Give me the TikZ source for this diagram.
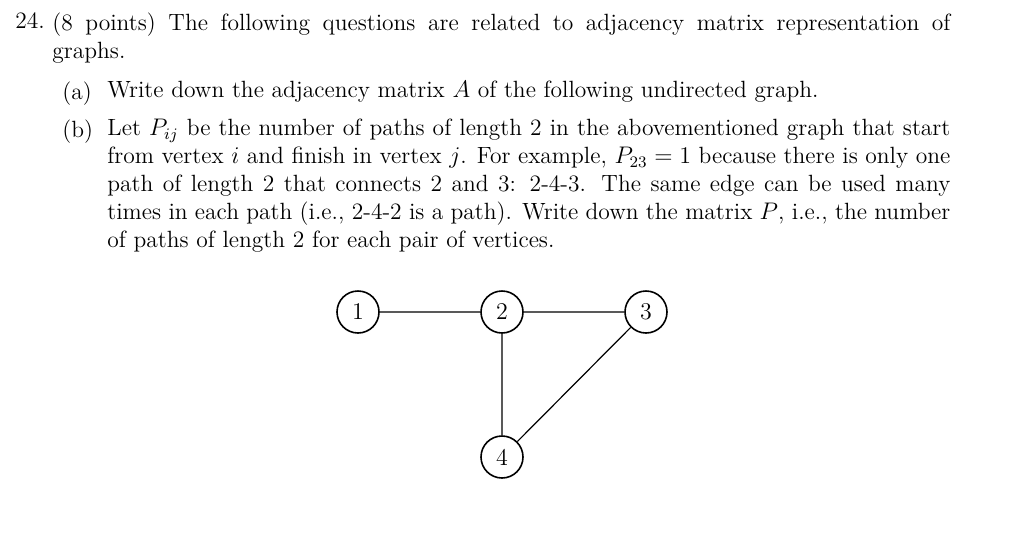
\documentclass[tikz,border=0pt]{standalone}
\begin{document}
\begin{tikzpicture}[x=0.5pt,y=-0.5pt,
  txt/.style={anchor=north west,inner sep=0pt,align=justify,font=\fontsize{11.75}{14}\selectfont},
  lbl/.style={anchor=north west,inner sep=0pt,font=\fontsize{11.75}{14}\selectfont},
  vtx/.style={circle,draw,thick,minimum size=21pt,inner sep=0pt,font=\fontsize{12}{14}\selectfont}]
\useasboundingbox (0,0) rectangle (1024,542);
\node[lbl] (n24) at (15,12) {24.};
\node[txt,text width=449pt] (q) at (52,12) {(8 points) The following questions are related to adjacency matrix representation of\linebreak graphs.};
\node[lbl] (la) at (62,81) {(a)};
\node[txt,text width=421.5pt] (ta) at (107,81) {Write down the adjacency matrix $A$ of the following undirected graph.};
\node[lbl] (lb) at (62,119) {(b)};
\node[txt,text width=421.5pt] (tb) at (107,119) {Let $P_{ij}$ be the number of paths of length 2 in the abovementioned graph that start from vertex $i$ and finish in vertex $j$. For example, $P_{23}=1$ because there is only one path of length 2 that connects 2 and 3: 2-4-3. The same edge can be used many times in each path (i.e., 2-4-2 is a path). Write down the matrix $P$, i.e., the number of paths of length 2 for each pair of vertices.};
\node[vtx] (v1) at (358,312) {1};
\node[vtx] (v2) at (502,312) {2};
\node[vtx] (v3) at (646,312) {3};
\node[vtx] (v4) at (502,457) {4};
\draw[semithick] (v1)--(v2) (v2)--(v3) (v2)--(v4) (v3)--(v4);
\end{tikzpicture}
\end{document}
